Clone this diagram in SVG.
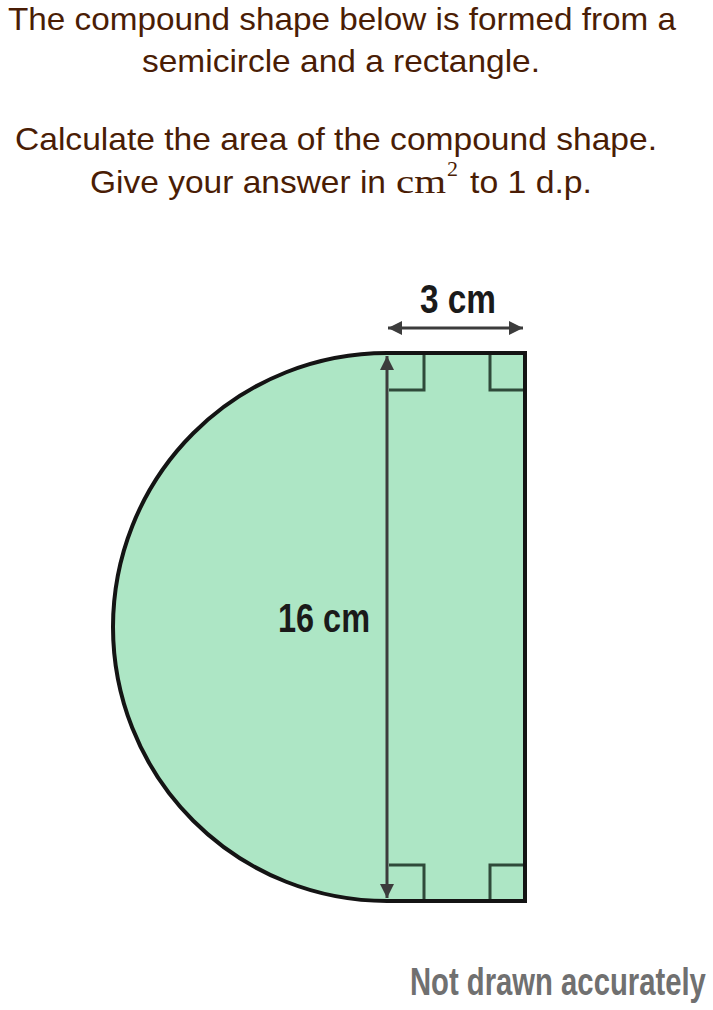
<svg xmlns="http://www.w3.org/2000/svg" width="713" height="1010" viewBox="0 0 713 1010">
<style>
.q{font-family:"Liberation Sans",Arial,sans-serif;font-size:32px;fill:#4a1d05}
.m{font-family:"Liberation Serif","Times New Roman",serif;fill:#4a1d05}
.lbl{font-family:"Liberation Sans",Arial,sans-serif;font-size:40px;font-weight:bold;fill:#1a1a1a}
.note{font-family:"Liberation Sans",Arial,sans-serif;font-size:39px;font-weight:bold;fill:#707070}
.mark{fill:none;stroke:#2f4a3a;stroke-width:3}
.dim{stroke:#3c3c3c;stroke-width:3;fill:none}
</style>
<defs>
<marker id="ah" viewBox="0 0 10 10" refX="10" refY="5" markerWidth="20" markerHeight="14" markerUnits="userSpaceOnUse" orient="auto-start-reverse">
<path d="M0,0 L10,5 L0,10 z" fill="#3c3c3c"/>
</marker>
</defs>
<rect width="713" height="1010" fill="#ffffff"/>
<g id="question">
<text class="q" x="8" y="30" textLength="668" lengthAdjust="spacingAndGlyphs">The compound shape below is formed from a</text>
<text class="q" x="142" y="72" textLength="398" lengthAdjust="spacingAndGlyphs">semicircle and a rectangle.</text>
<text class="q" x="15" y="150" textLength="642" lengthAdjust="spacingAndGlyphs">Calculate the area of the compound shape.</text>
<text class="q" x="90" y="193" textLength="296" lengthAdjust="spacingAndGlyphs">Give your answer in</text>
<text class="m" x="396" y="193" font-size="33" textLength="50" lengthAdjust="spacingAndGlyphs">cm</text>
<text class="m" x="447" y="176" font-size="22">2</text>
<text class="q" x="470" y="193" textLength="122" lengthAdjust="spacingAndGlyphs">to 1 d.p.</text>
</g>
<g id="shape">
<path d="M387,353 H525 V901 H387 A274,274 0 0 1 387,353 Z" fill="#ade6c5" stroke="#141414" stroke-width="4" stroke-linejoin="miter"/>
</g>
<g id="right-angles">
<path class="mark" d="M389,390 H424 V355"/>
<path class="mark" d="M523,390 H490 V355"/>
<path class="mark" d="M389,865 H424 V899"/>
<path class="mark" d="M523,865 H490 V899"/>
</g>
<g id="connectors">
<line class="dim" x1="388" y1="328" x2="523" y2="328" marker-start="url(#ah)" marker-end="url(#ah)"/>
<line class="dim" x1="387" y1="356" x2="387" y2="898" marker-start="url(#ah)" marker-end="url(#ah)"/>
</g>
<g id="labels">
<text class="lbl" x="420" y="313" textLength="76" lengthAdjust="spacingAndGlyphs">3 cm</text>
<text class="lbl" x="278" y="632" textLength="92" lengthAdjust="spacingAndGlyphs">16 cm</text>
<text class="note" transform="translate(410,995) scale(0.75,1)" x="0" y="0">Not drawn accurately</text>
</g>
</svg>
